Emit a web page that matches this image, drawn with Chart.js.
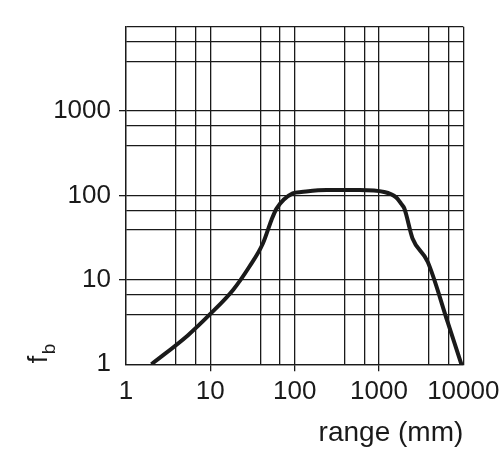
<!DOCTYPE html>
<html>
<head>
<meta charset="utf-8">
<script src="https://cdn.jsdelivr.net/npm/chart.js@4"></script>
<style>
  html, body { margin: 0; padding: 0; background: #ffffff; }
  #wrap { width: 500px; height: 465px; }
</style>
</head>
<body>
<div id="wrap"><canvas id="c" width="500" height="465"></canvas></div>
<script>
// ---- data ----
const rangeMm = [2, 5.4, 10, 18.6, 29, 42, 53, 61, 95, 120, 240, 590, 1150, 1600, 1830, 2000, 2500, 3780, 6500, 9500];
const fbValues = [1, 2.2, 3.95, 7.6, 14.3, 27, 51, 70, 106, 110, 116, 116, 110, 95, 80, 70, 31, 16.4, 3.2, 1.0];

const xGridValues = [1, 3.9, 6.7, 10, 39, 67, 100, 390, 670, 1000, 3900, 6700, 10000];
const yGridValues = [1, 3.9, 6.7, 10, 39, 67, 100, 390, 670, 1000, 3900, 6700, 10000];
const xLabelValues = [1, 10, 100, 1000, 10000];
const yLabelValues = [1, 10, 100, 1000];
const tickMarkValues = [10, 100, 1000];

const xTitle = 'range (mm)';
const yTitleMain = 'f';
const yTitleSub = 'b';

const FONT = 'Liberation Sans, Arial, Helvetica, sans-serif';
const INK = '#1a1a1a';

const points = rangeMm.map((x, i) => ({ x: x, y: fbValues[i] }));

const yTitlePlugin = {
  id: 'yTitle',
  afterDraw(chart) {
    const ctx = chart.ctx;
    const area = chart.chartArea;
    ctx.save();
    ctx.fillStyle = INK;
    ctx.translate(47, area.bottom - 1);
    ctx.rotate(-Math.PI / 2);
    ctx.textAlign = 'left';
    ctx.textBaseline = 'alphabetic';
    ctx.font = '27px ' + FONT;
    ctx.fillText(yTitleMain, 0, 0);
    const w = ctx.measureText(yTitleMain).width;
    ctx.font = '19px ' + FONT;
    ctx.fillText(yTitleSub, w + 1.5, 8);
    ctx.restore();
  }
};

function isIn(arr, v) {
  return arr.some(a => Math.abs(a - v) / a < 1e-6);
}

new Chart(document.getElementById('c'), {
  type: 'line',
  data: {
    datasets: [{
      data: points,
      borderColor: INK,
      borderWidth: 4,
      pointRadius: 0,
      fill: false,
      cubicInterpolationMode: 'monotone',
      borderCapStyle: 'butt',
      borderJoinStyle: 'round'
    }]
  },
  options: {
    responsive: false,
    animation: false,
    devicePixelRatio: 1,
    layout: { padding: { left: 0, right: 36.7, top: 26.7, bottom: 0 } },
    plugins: { legend: { display: false }, tooltip: { enabled: false } },
    scales: {
      x: {
        type: 'logarithmic',
        min: 1,
        max: 10000,
        afterBuildTicks(scale) {
          scale.ticks = xGridValues.map(v => ({ value: v }));
        },
        afterFit(scale) {
          scale.height = 465 - 364.3;
          scale.paddingLeft = 0;
          scale.paddingRight = 0;
        },
        grid: {
          color: INK,
          lineWidth: 1.3,
          drawTicks: true,
          tickLength: 7,
          tickColor: (c) => (c.tick && isIn(tickMarkValues, c.tick.value)) ? INK : 'rgba(0,0,0,0)'
        },
        border: { display: true, color: INK, width: 1.3 },
        ticks: {
          autoSkip: false,
          maxRotation: 0,
          minRotation: 0,
          padding: 5,
          color: INK,
          font: { family: FONT, size: 26 },
          callback: (v) => isIn(xLabelValues, v) ? String(Math.round(v)) : ''
        },
        title: {
          display: true,
          text: xTitle,
          align: 'end',
          color: INK,
          font: { family: FONT, size: 28 },
          padding: { top: 0, bottom: 15 }
        }
      },
      y: {
        type: 'logarithmic',
        min: 1,
        max: 10000,
        afterBuildTicks(scale) {
          scale.ticks = yGridValues.map(v => ({ value: v }));
        },
        afterFit(scale) {
          scale.width = 126;
          scale.paddingTop = 0;
          scale.paddingBottom = 0;
        },
        grid: {
          color: INK,
          lineWidth: 1.3,
          drawTicks: true,
          tickLength: 7,
          tickColor: (c) => (c.tick && isIn(tickMarkValues, c.tick.value)) ? INK : 'rgba(0,0,0,0)'
        },
        border: { display: true, color: INK, width: 1.3 },
        ticks: {
          autoSkip: false,
          padding: 8,
          color: INK,
          font: { family: FONT, size: 26 },
          callback: (v) => isIn(yLabelValues, v) ? String(Math.round(v)) : ''
        }
      }
    }
  },
  plugins: [yTitlePlugin]
});
</script>
</body>
</html>
